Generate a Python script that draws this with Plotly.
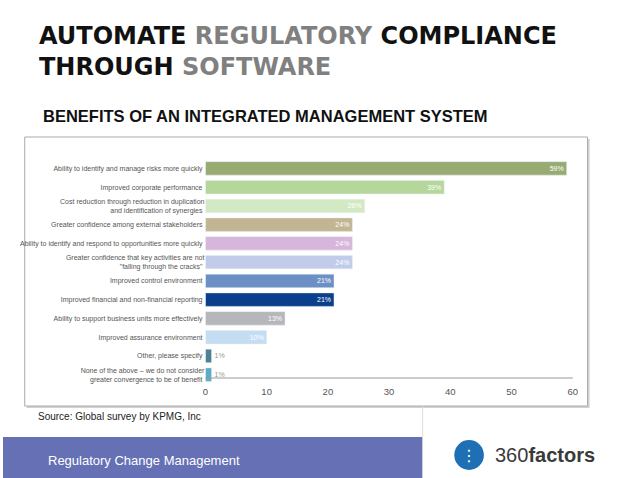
import plotly.graph_objects as go

W, H = 638, 478
categories = [
    "Ability to identify and manage risks more quickly",
    "Improved corporate performance",
    "Cost reduction through reduction in duplication<br>and identification of synergies",
    "Greater confidence among external stakeholders",
    "Ability to identify and respond to opportunities more quickly",
    "Greater confidence that key activities are not<br>\"falling through the cracks\"",
    "Improved control environment",
    "Improved financial and non-financial reporting",
    "Ability to support business units more effectively",
    "Improved assurance environment",
    "Other, please specify",
    "None of the above – we do not consider<br>greater convergence to be of benefit",
]
values = [59, 39, 26, 24, 24, 24, 21, 21, 13, 10, 1, 1]
colors = ["#98ab72", "#b5d89a", "#d3e9c3", "#c2b592", "#d7b5dc", "#c0cce9",
          "#6c8fc6", "#0a3f8c", "#b5b7ba", "#c4ddf3", "#4d8294", "#59adc9"]
tick_vals = [0, 10, 20, 30, 40, 50, 60]

px = lambda x: x / W
py = lambda y: 1 - y / H

labels = [f"{v}%" for v in values]
fig = go.Figure(go.Bar(
    x=values, y=categories, orientation="h", marker_color=colors, width=0.72,
    text=labels, textposition=["inside"] * 10 + ["outside"] * 2,
    insidetextanchor="end",
    textfont=dict(family="Liberation Sans", size=7, color="white"),
    outsidetextfont=dict(color="#999999", size=7),
    cliponaxis=False,
))

shapes = [
    dict(type="rect", xref="paper", yref="paper", x0=px(24), x1=px(594), y0=py(139), y1=py(408),
         line=dict(width=0), fillcolor="#d0d0d0", layer="below"),
    dict(type="rect", xref="paper", yref="paper", x0=px(22), x1=px(592), y0=py(137), y1=py(406),
         line=dict(color="#aaaaaa", width=1), fillcolor="white", layer="below"),
    dict(type="rect", xref="paper", yref="paper", x0=0, x1=px(425), y0=0, y1=py(437),
         line=dict(width=0), fillcolor="#6570b5", layer="below"),
    dict(type="line", xref="paper", yref="paper", x0=px(425), x1=px(425), y0=0, y1=py(406),
         line=dict(color="#dddddd", width=1)),
    dict(type="circle", xref="paper", yref="paper", x0=px(457), x1=px(487), y0=py(470), y1=py(440),
         line=dict(width=0), fillcolor="#1f6fb5"),
    dict(type="line", xref="paper", yref="paper", x0=px(205), x1=px(577), y0=py(378), y1=py(378),
         line=dict(color="#999999", width=1)),
]
annotations = [
    dict(xref="paper", yref="paper", x=px(34), y=py(20), xanchor="left", yanchor="top", align="left",
         showarrow=False,
         text="<b>AUTOMATE <span style='color:#808080'>REGULATORY</span> COMPLIANCE<br>THROUGH <span style='color:#808080'>SOFTWARE</span></b>",
         font=dict(family="DejaVu Sans", size=24, color="#111111")),
    dict(xref="paper", yref="paper", x=px(38), y=py(116), xanchor="left", yanchor="middle", showarrow=False,
         text="<b>BENEFITS OF AN INTEGRATED MANAGEMENT SYSTEM</b>",
         font=dict(family="Liberation Sans", size=16.5, color="#111111")),
    dict(xref="paper", yref="paper", x=px(33), y=py(416), xanchor="left", yanchor="middle", showarrow=False,
         text="Source: Global survey by KPMG, Inc",
         font=dict(family="Liberation Sans", size=10, color="#222222")),
    dict(xref="paper", yref="paper", x=px(44), y=py(460), xanchor="left", yanchor="middle", showarrow=False,
         text="Regulatory Change Management",
         font=dict(family="Liberation Sans", size=13, color="white")),
    dict(xref="paper", yref="paper", x=px(472), y=py(455), xanchor="center", yanchor="middle", showarrow=False,
         text="⋮", font=dict(family="DejaVu Sans", size=16, color="white")),
    dict(xref="paper", yref="paper", x=px(496), y=py(455), xanchor="left", yanchor="middle", showarrow=False,
         text="360<b>factors</b>", font=dict(family="Liberation Sans", size=20, color="#3a3a3a")),
]

fig.update_layout(
    width=W, height=H, margin=dict(l=0, r=0, t=0, b=0),
    paper_bgcolor="white", plot_bgcolor="white", showlegend=False,
    shapes=shapes, annotations=annotations,
    xaxis=dict(domain=[px(205), px(577)], range=[0, 60], tickvals=tick_vals, showgrid=False,
               zeroline=False, ticks="", showline=False,
               tickfont=dict(family="Liberation Sans", size=9.5, color="#555555")),
    yaxis=dict(domain=[py(384), py(159)], autorange="reversed", showline=False,
               showgrid=False, ticks="", ticksuffix=" ",
               tickfont=dict(family="Liberation Sans", size=7, color="#555555")),
)
fig.write_html("out.html", config={"displayModeBar": False},
               post_script="document.body.style.margin='0';document.body.style.overflow='hidden';")
